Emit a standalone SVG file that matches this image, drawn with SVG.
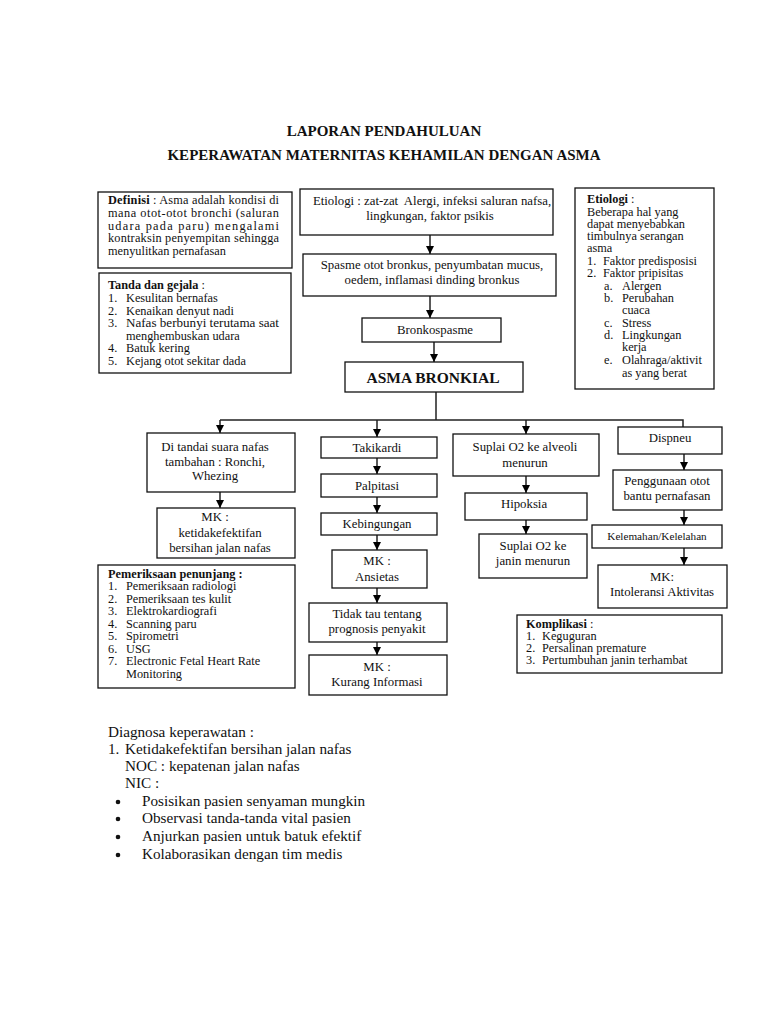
<svg xmlns="http://www.w3.org/2000/svg" width="768" height="1024" viewBox="0 0 768 1024">
<defs>
<marker id="arr" markerUnits="userSpaceOnUse" markerWidth="8" markerHeight="8" refX="8" refY="4" orient="auto">
<path d="M0,0 L8,4 L0,8 z" fill="#000"/>
</marker>
<style>
text{font-family:"Liberation Serif","Times New Roman",serif;fill:#111;font-size:12.3px}
.c{text-anchor:middle;font-size:12.8px}
.b{font-weight:bold}
.t{font-size:15px;font-weight:bold}
.d{font-size:15.2px}
.big{font-size:15.5px;font-weight:bold;text-anchor:middle}
.sm{font-size:11.2px;text-anchor:middle}
.mk{font-size:12.8px;text-anchor:middle}
.box{fill:#fff;stroke:#111;stroke-width:1.3}
.ln{stroke:#222;stroke-width:1.5;fill:none}
.ar{stroke:#222;stroke-width:1.5;fill:none;marker-end:url(#arr)}
</style>
</defs>
<rect width="768" height="1024" fill="#fff"/>

<g id="title">
<text class="t" x="384" y="136" text-anchor="middle">LAPORAN PENDAHULUAN</text>
<text class="t" x="384" y="160" text-anchor="middle">KEPERAWATAN MATERNITAS KEHAMILAN DENGAN ASMA</text>
</g>

<g id="connectors">
<path class="ar" d="M430,235 V254"/>
<path class="ar" d="M430,296 V318"/>
<path class="ar" d="M434,342 V362"/>
<path class="ln" d="M436,392 V420 M220,420 H683 V427"/>
<path class="ar" d="M220,420 V433"/>
<path class="ar" d="M377,420 V437"/>
<path class="ar" d="M526,420 V434"/>
<path class="ar" d="M220,492 V508"/>
<path class="ar" d="M377,458 V474"/>
<path class="ar" d="M377,497 V513"/>
<path class="ar" d="M377,535 V550"/>
<path class="ar" d="M377,588 V603"/>
<path class="ar" d="M377,642 V655"/>
<path class="ar" d="M526,476 V493"/>
<path class="ar" d="M526,520 V534"/>
<path class="ar" d="M684,454 V470"/>
<path class="ar" d="M684,510 V525"/>
<path class="ar" d="M684,548 V565"/>
</g>

<g id="definisi">
<rect class="box" x="98" y="192" width="194" height="76"/>
<text x="108" y="204" textLength="171" lengthAdjust="spacing"><tspan class="b">Definisi</tspan> : Asma adalah kondisi di</text>
<text x="108" y="217" textLength="171" lengthAdjust="spacing">mana otot-otot bronchi (saluran</text>
<text x="108" y="230" textLength="171" lengthAdjust="spacing">udara pada paru) mengalami</text>
<text x="108" y="242" textLength="171" lengthAdjust="spacing">kontraksin penyempitan sehingga</text>
<text x="108" y="255">menyulitkan pernafasan</text>
</g>

<g id="tanda">
<rect class="box" x="99" y="273" width="192" height="100"/>
<text class="b" x="108" y="289">Tanda dan gejala <tspan font-weight="normal">:</tspan></text>
<text x="108" y="302">1.</text><text x="126" y="302">Kesulitan bernafas</text>
<text x="108" y="315">2.</text><text x="126" y="315">Kenaikan denyut nadi</text>
<text x="108" y="327">3.</text><text x="126" y="327" textLength="153" lengthAdjust="spacingAndGlyphs">Nafas berbunyi terutama saat</text>
<text x="126" y="340">menghembuskan udara</text>
<text x="108" y="352">4.</text><text x="126" y="352">Batuk kering</text>
<text x="108" y="365">5.</text><text x="126" y="365">Kejang otot sekitar dada</text>
</g>

<g id="etiologi-main">
<rect class="box" x="300" y="189" width="253" height="46"/>
<text class="c" x="432" y="205" xml:space="preserve">Etiologi : zat-zat  Alergi, infeksi saluran nafsa,</text>
<text class="c" x="430" y="220">lingkungan, faktor psikis</text>
</g>

<g id="spasme">
<rect class="box" x="303" y="254" width="253" height="42"/>
<text class="c" x="432" y="269">Spasme otot bronkus, penyumbatan mucus,</text>
<text class="c" x="432" y="284">oedem, inflamasi dinding bronkus</text>
</g>

<g id="bronkospasme">
<rect class="box" x="362" y="318" width="139" height="24"/>
<text class="c" x="435" y="334">Bronkospasme</text>
</g>

<g id="asma">
<rect class="box" x="345" y="362" width="178" height="30"/>
<text class="big" x="433" y="383">ASMA BRONKIAL</text>
</g>

<g id="etiologi-side">
<rect class="box" x="575" y="188" width="139" height="201"/>
<text x="587" y="203"><tspan class="b">Etiologi</tspan> :</text>
<text x="587" y="216">Beberapa hal yang</text>
<text x="587" y="228">dapat menyebabkan</text>
<text x="587" y="240">timbulnya serangan</text>
<text x="587" y="252">asma</text>
<text x="587" y="265">1.</text><text x="603" y="265">Faktor predisposisi</text>
<text x="587" y="277">2.</text><text x="603" y="277">Faktor pripisitas</text>
<text x="604" y="290">a.</text><text x="622" y="290">Alergen</text>
<text x="604" y="302">b.</text><text x="622" y="302">Perubahan</text>
<text x="622" y="314">cuaca</text>
<text x="604" y="327">c.</text><text x="622" y="327">Stress</text>
<text x="604" y="339">d.</text><text x="622" y="339">Lingkungan</text>
<text x="622" y="351">kerja</text>
<text x="604" y="364">e.</text><text x="622" y="364">Olahraga/aktivit</text>
<text x="622" y="377">as yang berat</text>
</g>

<g id="ditandai">
<rect class="box" x="147" y="433" width="148" height="59"/>
<text class="c" x="215" y="451">Di tandai suara nafas</text>
<text class="c" x="215" y="466">tambahan : Ronchi,</text>
<text class="c" x="215" y="480">Whezing</text>
</g>

<g id="mk-bersihan">
<rect class="box" x="157" y="508" width="138" height="50"/>
<text class="c" x="215" y="521">MK :</text>
<text class="c" x="220" y="537">ketidakefektifan</text>
<text class="c" x="220" y="552">bersihan jalan nafas</text>
</g>

<g id="pemeriksaan">
<rect class="box" x="98" y="565" width="197" height="123"/>
<text class="b" x="108" y="578">Pemeriksaan penunjang :</text>
<text x="108" y="590">1.</text><text x="126" y="590">Pemeriksaan radiologi</text>
<text x="108" y="603">2.</text><text x="126" y="603">Pemeriksaan tes kulit</text>
<text x="108" y="615">3.</text><text x="126" y="615">Elektrokardiografi</text>
<text x="108" y="628">4.</text><text x="126" y="628">Scanning paru</text>
<text x="108" y="640">5.</text><text x="126" y="640">Spirometri</text>
<text x="108" y="653">6.</text><text x="126" y="653">USG</text>
<text x="108" y="665">7.</text><text x="126" y="665">Electronic Fetal Heart Rate</text>
<text x="126" y="678">Monitoring</text>
</g>

<g id="takikardi">
<rect class="box" x="321" y="437" width="116" height="21"/>
<text class="c" x="377" y="452">Takikardi</text>
</g>
<g id="palpitasi">
<rect class="box" x="321" y="474" width="116" height="23"/>
<text class="c" x="377" y="490">Palpitasi</text>
</g>
<g id="kebingungan">
<rect class="box" x="321" y="513" width="116" height="22"/>
<text class="c" x="377" y="528">Kebingungan</text>
</g>
<g id="mk-ansietas">
<rect class="box" x="332" y="550" width="95" height="38"/>
<text class="c" x="377" y="565">MK :</text>
<text class="c" x="377" y="581">Ansietas</text>
</g>
<g id="tidaktau">
<rect class="box" x="309" y="603" width="138" height="39"/>
<text class="c" x="377" y="618">Tidak tau tentang</text>
<text class="c" x="377" y="633">prognosis penyakit</text>
</g>
<g id="mk-kurang">
<rect class="box" x="309" y="655" width="138" height="40"/>
<text class="c" x="377" y="671">MK :</text>
<text class="c" x="377" y="686">Kurang Informasi</text>
</g>

<g id="suplai-alveoli">
<rect class="box" x="453" y="434" width="146" height="42"/>
<text class="c" x="525" y="451">Suplai O2 ke alveoli</text>
<text class="c" x="525" y="467">menurun</text>
</g>
<g id="hipoksia">
<rect class="box" x="465" y="493" width="122" height="27"/>
<text class="c" x="524" y="508">Hipoksia</text>
</g>
<g id="suplai-janin">
<rect class="box" x="479" y="534" width="108" height="44"/>
<text class="c" x="533" y="550">Suplai O2 ke</text>
<text class="c" x="533" y="565">janin menurun</text>
</g>

<g id="dispneu">
<rect class="box" x="618" y="427" width="104" height="27"/>
<text class="c" x="670" y="442">Dispneu</text>
</g>
<g id="penggunaan">
<rect class="box" x="613" y="470" width="109" height="40"/>
<text class="c" x="667" y="485">Penggunaan otot</text>
<text class="c" x="667" y="500">bantu pernafasan</text>
</g>
<g id="kelemahan">
<rect class="box" x="592" y="525" width="130" height="23"/>
<text class="sm" x="657" y="540">Kelemahan/Kelelahan</text>
</g>
<g id="mk-intoleransi">
<rect class="box" x="598" y="565" width="129" height="43"/>
<text class="mk" x="662" y="581">MK:</text>
<text class="mk" x="662" y="596">Intoleransi Aktivitas</text>
</g>

<g id="komplikasi">
<rect class="box" x="517" y="615" width="205" height="58"/>
<text x="526" y="628"><tspan class="b">Komplikasi</tspan> :</text>
<text x="526" y="640">1.</text><text x="542" y="640">Keguguran</text>
<text x="526" y="652">2.</text><text x="542" y="652">Persalinan premature</text>
<text x="526" y="664">3.</text><text x="542" y="664">Pertumbuhan janin terhambat</text>
</g>

<g id="diagnosa">
<text class="d" x="108" y="737">Diagnosa keperawatan :</text>
<text class="d" x="108" y="754">1.</text><text class="d" x="125" y="754">Ketidakefektifan bersihan jalan nafas</text>
<text class="d" x="125" y="771">NOC : kepatenan jalan nafas</text>
<text class="d" x="125" y="788">NIC :</text>
<circle cx="118" cy="802" r="2.3" fill="#111"/><text class="d" x="142" y="806">Posisikan pasien senyaman mungkin</text>
<circle cx="118" cy="819" r="2.3" fill="#111"/><text class="d" x="142" y="823">Observasi tanda-tanda vital pasien</text>
<circle cx="118" cy="837" r="2.3" fill="#111"/><text class="d" x="142" y="841">Anjurkan pasien untuk batuk efektif</text>
<circle cx="118" cy="855" r="2.3" fill="#111"/><text class="d" x="142" y="859">Kolaborasikan dengan tim medis</text>
</g>
</svg>
